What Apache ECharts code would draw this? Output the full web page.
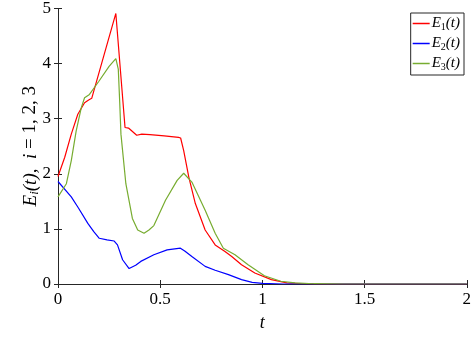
<!DOCTYPE html>
<html>
<head>
<meta charset="utf-8">
<script src="https://cdn.jsdelivr.net/npm/echarts@6/dist/echarts.min.js"></script>
<style>html,body{margin:0;padding:0;background:#fff}#c{width:474px;height:354px}</style>
</head>
<body>
<div id="c"></div>
<script>
// ---- data ----
var xTicks = [0, 0.5, 1, 1.5, 2];
var yTicks = [0, 1, 2, 3, 4, 5];

var tE1 = [0, 0.033, 0.065, 0.097, 0.13, 0.15, 0.165, 0.283, 0.328, 0.345, 0.385, 0.41, 0.45, 0.52, 0.59, 0.6, 0.615, 0.64, 0.672, 0.72, 0.769, 0.817, 0.85, 0.898, 0.963, 1.044, 1.12, 1.2, 1.3, 1.5, 2.0];
var E1  = [1.95, 2.3, 2.72, 3.08, 3.29, 3.34, 3.37, 4.91, 2.84, 2.83, 2.70, 2.72, 2.71, 2.69, 2.66, 2.65, 2.42, 1.94, 1.46, 0.98, 0.71, 0.59, 0.50, 0.35, 0.20, 0.08, 0.02, 0.005, 0, 0, 0];

var tE2 = [0, 0.065, 0.1, 0.146, 0.175, 0.202, 0.24, 0.275, 0.291, 0.316, 0.348, 0.38, 0.405, 0.469, 0.534, 0.599, 0.62, 0.655, 0.72, 0.769, 0.834, 0.898, 0.95, 1.0, 1.1, 2.0];
var E2  = [1.86, 1.58, 1.38, 1.10, 0.95, 0.83, 0.80, 0.78, 0.71, 0.44, 0.28, 0.34, 0.41, 0.53, 0.62, 0.65, 0.60, 0.50, 0.32, 0.25, 0.17, 0.08, 0.03, 0.01, 0, 0];

var tE3 = [0, 0.041, 0.065, 0.089, 0.114, 0.13, 0.154, 0.2, 0.25, 0.283, 0.295, 0.302, 0.308, 0.332, 0.364, 0.39, 0.421, 0.445, 0.469, 0.526, 0.583, 0.615, 0.655, 0.72, 0.769, 0.809, 0.866, 0.93, 1.01, 1.09, 1.16, 1.25, 1.4, 2.0];
var E3  = [1.58, 1.82, 2.24, 2.78, 3.2, 3.38, 3.44, 3.68, 3.95, 4.09, 3.9, 3.3, 2.72, 1.82, 1.19, 0.98, 0.92, 0.98, 1.06, 1.52, 1.88, 2.01, 1.85, 1.34, 0.92, 0.65, 0.53, 0.35, 0.15, 0.05, 0.02, 0.005, 0, 0];

var names = ['E1(t)', 'E2(t)', 'E3(t)'];
var colors = ['#ff0000', '#0000ff', '#77ac30'];

function pairs(t, v) { return t.map(function (x, i) { return [x, v[i]]; }); }

var FONT = 'Liberation Serif';
var richName = {
  e: { fontFamily: FONT, fontStyle: 'italic', fontSize: 19, color: '#000' },
  s: { fontFamily: FONT, fontStyle: 'italic', fontSize: 13, color: '#000', padding: [8, 0, 0, 0] },
  n: { fontFamily: FONT, fontSize: 19, color: '#000' }
};
var richX = {
  e: { fontFamily: FONT, fontStyle: 'italic', fontSize: 18, color: '#000' }
};
var richTick = {
  n: { fontFamily: FONT, fontSize: 17, color: '#000' }
};
var richLegend = {
  e: { fontFamily: FONT, fontStyle: 'italic', fontSize: 15, color: '#000' },
  s: { fontFamily: FONT, fontSize: 10, color: '#000', padding: [7, 0, 0, 0] }
};

var axisLine = { show: true, lineStyle: { color: '#262626', width: 1 } };
var tick = { show: true, inside: true, length: 4, lineStyle: { color: '#262626' } };

var chart = echarts.init(document.getElementById('c'), null, { renderer: 'canvas' });
chart.setOption({
  animation: false,
  backgroundColor: '#fff',
  textStyle: { fontFamily: FONT },
  grid: { left: 58, right: 4, top: 7, bottom: 70 },
  legend: {
    orient: 'vertical',
    right: 10, top: 13,
    data: names,
    icon: 'rect',
    itemWidth: 17, itemHeight: 1.5,
    itemGap: 4,
    padding: [3, 4, 3, 2],
    borderColor: '#262626', borderWidth: 1,
    backgroundColor: '#fff',
    formatter: function (n) { return '{e|E}{s|' + n.charAt(1) + '}{e|(t)}'; },
    textStyle: { fontFamily: FONT, rich: richLegend, padding: [0, 0, 0, -3] }
  },
  xAxis: [{
    type: 'value', min: 0, max: 2, interval: 0.5,
    axisLine: axisLine, axisTick: tick, splitLine: { show: false },
    axisLabel: { fontFamily: FONT, fontSize: 17, color: '#000', margin: 7, rich: richTick,
      formatter: function (v) { return xTicks.indexOf(v) >= 0 ? '{n|' + v + '}' : ''; } },
    name: '{e|t}', nameLocation: 'middle', nameGap: 30, nameMoveOverlap: false,
    nameTextStyle: { fontFamily: FONT, rich: richX }
  }, {
    type: 'value', min: 0, max: 2, interval: 0.5, position: 'top',
    axisLine: axisLine, axisTick: tick, axisLabel: { show: false }, splitLine: { show: false }
  }],
  yAxis: [{
    type: 'value', min: 0, max: 5, interval: 1,
    axisLine: axisLine, axisTick: tick, splitLine: { show: false },
    axisLabel: { fontFamily: FONT, fontSize: 17, color: '#000', margin: 7, rich: richTick,
      formatter: function (v) { return yTicks.indexOf(v) >= 0 ? '{n|' + v + '}' : ''; } },
    name: '{e|E}{s|i}{e|(t),}{n|  }{e|i}{n| = 1, 2, 3}', nameLocation: 'middle', nameGap: 17, nameRotate: 90,
    nameMoveOverlap: false,
    nameTextStyle: { fontFamily: FONT, rich: richName }
  }, {
    type: 'value', min: 0, max: 5, interval: 1, position: 'right',
    axisLine: axisLine, axisTick: tick, axisLabel: { show: false }, splitLine: { show: false }
  }],
  series: [
    { name: names[0], type: 'line', data: pairs(tE1, E1), showSymbol: false, symbol: 'none',
      lineStyle: { color: colors[0], width: 1.2 }, itemStyle: { color: colors[0] } },
    { name: names[1], type: 'line', data: pairs(tE2, E2), showSymbol: false, symbol: 'none',
      lineStyle: { color: colors[1], width: 1.2 }, itemStyle: { color: colors[1] } },
    { name: names[2], type: 'line', data: pairs(tE3, E3), showSymbol: false, symbol: 'none',
      lineStyle: { color: colors[2], width: 1.2 }, itemStyle: { color: colors[2] } }
  ]
});
</script>
</body>
</html>
